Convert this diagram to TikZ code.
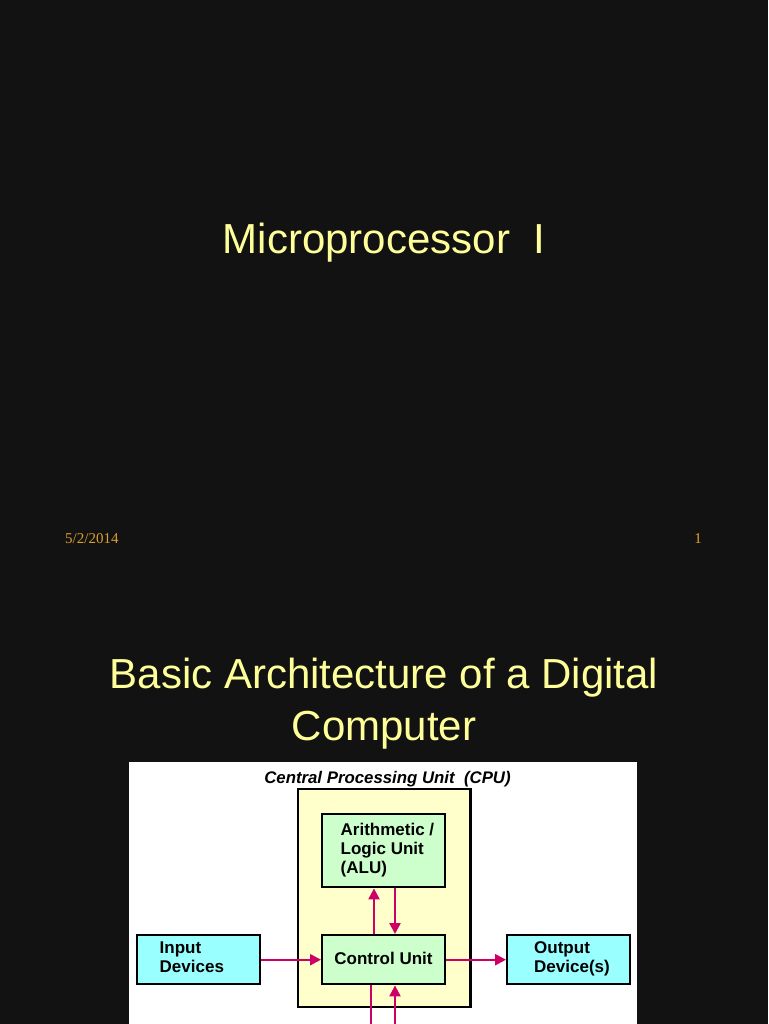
\documentclass[tikz,border=0pt]{standalone}
\usepackage{fontspec}
\setmainfont{Liberation Sans}
\newfontfamily\serifdate{Liberation Serif}
\usetikzlibrary{arrows.meta}
\definecolor{bgdark}{HTML}{121212}
\definecolor{titleyellow}{HTML}{FFFF99}
\definecolor{dategold}{HTML}{D9A030}
\definecolor{cpufill}{HTML}{FFFFCC}
\definecolor{unitgreen}{HTML}{CCFFCC}
\definecolor{iocyan}{HTML}{99FFFF}
\definecolor{linkmag}{HTML}{CC0066}
\tikzset{
  unitbox/.style={draw=black, line width=2.4pt, fill=unitgreen, inner sep=0pt, anchor=north west},
  iobox/.style={draw=black, line width=2.4pt, fill=iocyan, inner sep=0pt, anchor=north west},
  boxtext/.style={font=\fontsize{17}{19}\selectfont\bfseries, align=left, anchor=base west, inner sep=0pt},
  link/.style={draw=linkmag, line width=2.3pt, -{Triangle[length=11pt,width=11pt]}},
  plainlink/.style={draw=linkmag, line width=2.3pt},
  bigtitle/.style={font=\fontsize{42}{52}\selectfont, text=titleyellow, anchor=base, inner sep=0pt},
  datetext/.style={font=\serifdate\fontsize{15}{17}\selectfont, text=dategold, inner sep=0pt, anchor=base}
}
\begin{document}
\begin{tikzpicture}[x=1pt,y=-1pt]
\useasboundingbox (0,0) rectangle (768,1024);
\fill[bgdark] (0,0) rectangle (768,1024);
% slide 1
\node[bigtitle] (title1) at (384,253) {Microprocessor\ \ I};
\node[datetext, anchor=base west] (date) at (65,543) {5/2/2014};
\node[datetext, anchor=base east] (pagenum) at (702,543) {1};
% slide 2
\node[bigtitle] (title2a) at (384,688) {Basic Architecture of a Digital};
\node[bigtitle] (title2b) at (384,740) {Computer};
\fill[white] (129,762) rectangle (637,1024);
\node[font=\fontsize{16.8}{19}\selectfont\bfseries\itshape, inner sep=0pt, anchor=base] (cputitle) at (387.5,783) {Central Processing Unit\ \ (CPU)};
\draw[line width=2.4pt, fill=cpufill] (298,789) rectangle (470.5,1007);
\node[unitbox, minimum width=123pt, minimum height=73pt] (alu) at (321,813) {};
\node[boxtext] (alutext) at (340.5,873) {Arithmetic /\\Logic Unit\\(ALU)};
\node[unitbox, minimum width=123pt, minimum height=49pt] (cu) at (321,934) {};
\node[font=\fontsize{17}{19}\selectfont\bfseries, inner sep=0pt, anchor=base] (cutext) at (383.5,964) {Control Unit};
\node[iobox, minimum width=123pt, minimum height=49pt] (inp) at (136,934) {};
\node[boxtext] (inptext) at (159.5,972) {Input\\Devices};
\node[iobox, minimum width=123pt, minimum height=49pt] (outp) at (506,934) {};
\node[boxtext] (outptext) at (534,972) {Output\\Device(s)};
% connectors
\draw[link] (inp.east) -- (cu.west);
\draw[link] (cu.east) -- (outp.west);
\draw[link] (cu.north -| 374,0) -- (alu.south -| 374,0);
\draw[link] (alu.south -| 395,0) -- (cu.north -| 395,0);
\coordinate (busout) at (371,1024);
\coordinate (busin) at (395,1024);
\draw[plainlink] (cu.south -| busout) -- (busout);
\draw[link] (busin) -- (cu.south -| busin);
\end{tikzpicture}
\end{document}
